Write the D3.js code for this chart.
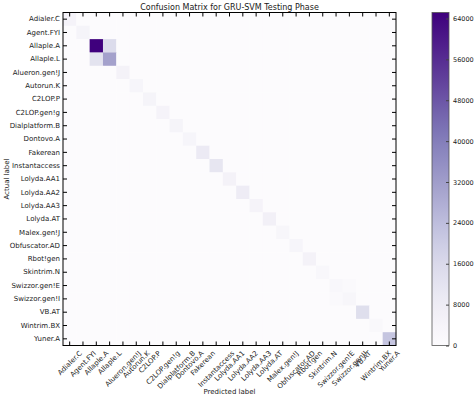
<!DOCTYPE html>
<html>
<head>
<meta charset="utf-8">
<script src="https://cdn.jsdelivr.net/npm/d3@7"></script>
<style>
  body { margin: 0; background: #fff; }
  text { font-family: "DejaVu Sans", sans-serif; fill: #1a1a1a; }
</style>
</head>
<body>
<div id="chart"></div>
<script>
// class names (rows = actual, columns = predicted)
var labels = ['Adialer.C', 'Agent.FYI', 'Allaple.A', 'Allaple.L', 'Alueron.gen!J', 'Autorun.K',
    'C2LOP.P', 'C2LOP.gen!g', 'Dialplatform.B', 'Dontovo.A', 'Fakerean', 'Instantaccess',
    'Lolyda.AA1', 'Lolyda.AA2', 'Lolyda.AA3', 'Lolyda.AT', 'Malex.gen!J', 'Obfuscator.AD',
    'Rbot!gen', 'Skintrim.N', 'Swizzor.gen!E', 'Swizzor.gen!I', 'VB.AT', 'Wintrim.BX', 'Yuner.A'];

// correct predictions (diagonal), estimated from the colours
var diagonal = [4500, 4000, 65170, 31000, 5000, 3500,
    4000, 4500, 4000, 3500, 9000, 11000,
    5000, 8000, 4500, 6000, 3000, 3500,
    5000, 2500, 2500, 3000, 14000, 2000, 22000];

// visible misclassifications: [actual index, predicted index, count]
var offDiagonal = [[2, 3, 15000], [3, 2, 12500], [20, 21, 1000], [21, 20, 1000]];

var colorbarTicks = [0, 8000, 16000, 24000, 32000, 40000, 48000, 56000, 64000];

var width = 474, height = 399;
var plotLeft = 63, plotRight = 396, plotTop = 12.5, plotBottom = 345.5;
var barLeft = 432, barRight = 449;
var fs = 7;

// build the cell table
var cells = [];
labels.forEach(function (r, i) {
    labels.forEach(function (c, j) {
        cells.push({row: r, col: c, value: i === j ? diagonal[i] : 0});
    });
});
offDiagonal.forEach(function (d) {
    cells[d[0] * labels.length + d[1]].value = d[2];
});

var vmax = d3.max(cells, d => d.value);
var color = d3.scaleSequential(d3.interpolatePurples).domain([0, vmax]);

var x = d3.scaleBand().domain(labels).range([plotLeft, plotRight]);
var y = d3.scaleBand().domain(labels).range([plotTop, plotBottom]);

var svg = d3.select('#chart')
    .append('svg')
    .attr('width', width)
    .attr('height', height);

// cells
svg.append('g')
    .selectAll('rect')
    .data(cells)
    .enter()
    .append('rect')
    .attr('x', d => x(d.col))
    .attr('y', d => y(d.row))
    .attr('width', x.bandwidth() + 0.3)
    .attr('height', y.bandwidth() + 0.3)
    .attr('fill', d => color(d.value));

// inward ticks on all four sides
svg.append('g')
    .attr('transform', 'translate(' + plotLeft + ',0)')
    .call(d3.axisLeft(y).tickSizeInner(-4).tickSizeOuter(0).tickPadding(3))
    .call(g => g.select('.domain').remove())
    .call(g => g.selectAll('text').style('font-size', fs + 'px').style('font-family', '"DejaVu Sans", sans-serif'));

svg.append('g')
    .attr('transform', 'translate(' + plotRight + ',0)')
    .call(d3.axisRight(y).tickSizeInner(-4).tickSizeOuter(0).tickFormat(''))
    .call(g => g.select('.domain').remove());

svg.append('g')
    .attr('transform', 'translate(0,' + plotTop + ')')
    .call(d3.axisTop(x).tickSizeInner(-4).tickSizeOuter(0).tickFormat(''))
    .call(g => g.select('.domain').remove());

svg.append('g')
    .attr('transform', 'translate(0,' + plotBottom + ')')
    .call(d3.axisBottom(x).tickSizeInner(-4).tickSizeOuter(0).tickFormat(''))
    .call(g => g.select('.domain').remove());

// rotated x labels, centred on their tick like matplotlib
var xlab = svg.append('g')
    .selectAll('text')
    .data(labels)
    .enter()
    .append('text')
    .text(d => d)
    .style('font-size', fs + 'px')
    .attr('text-anchor', 'middle');
xlab.attr('transform', function (d) {
    var len = this.getComputedTextLength();
    var h = (len + fs) * Math.SQRT1_2;
    return 'translate(' + (x(d) + x.bandwidth() / 2) + ',' + (plotBottom + 4 + h / 2) + ') rotate(-45)';
}).attr('dy', '0.35em');

// border
svg.append('rect')
    .attr('x', plotLeft).attr('y', plotTop)
    .attr('width', plotRight - plotLeft).attr('height', plotBottom - plotTop)
    .attr('fill', 'none').attr('stroke', '#000').attr('stroke-width', 1);

// titles
svg.append('text')
    .attr('x', (plotLeft + plotRight) / 2).attr('y', 9.5)
    .attr('text-anchor', 'middle')
    .style('font-size', '8px')
    .text('Confusion Matrix for GRU-SVM Testing Phase');

svg.append('text')
    .attr('x', (plotLeft + plotRight) / 2).attr('y', 394)
    .attr('text-anchor', 'middle')
    .style('font-size', fs + 'px')
    .text('Predicted label');

svg.append('text')
    .attr('transform', 'translate(9,' + (plotTop + plotBottom) / 2 + ') rotate(-90)')
    .attr('text-anchor', 'middle')
    .style('font-size', fs + 'px')
    .text('Actual label');

// colorbar
var cbar = d3.scaleLinear().domain([0, vmax]).range([plotBottom, plotTop]);
var grad = svg.append('defs').append('linearGradient')
    .attr('id', 'cbgrad')
    .attr('x1', 0).attr('y1', 1).attr('x2', 0).attr('y2', 0);
grad.selectAll('stop')
    .data(d3.range(0, 1.01, 0.05))
    .enter()
    .append('stop')
    .attr('offset', d => d)
    .attr('stop-color', d => d3.interpolatePurples(d));

svg.append('rect')
    .attr('x', barLeft).attr('y', plotTop)
    .attr('width', barRight - barLeft).attr('height', plotBottom - plotTop)
    .attr('fill', 'url(#cbgrad)')
    .attr('stroke', '#555').attr('stroke-width', 0.8);

svg.append('g')
    .attr('transform', 'translate(' + barRight + ',0)')
    .call(d3.axisRight(cbar).tickValues(colorbarTicks).tickFormat(d3.format('d'))
        .tickSizeInner(-3).tickSizeOuter(0).tickPadding(4))
    .call(g => g.select('.domain').remove())
    .call(g => g.selectAll('line').attr('stroke', '#444'))
    .call(g => g.selectAll('text').style('font-size', '6.5px').style('font-family', '"DejaVu Sans", sans-serif'));
</script>
</body>
</html>
